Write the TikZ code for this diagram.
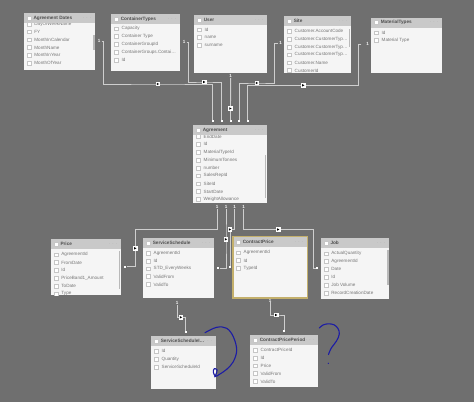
\documentclass[tikz,border=0pt]{standalone}
\usepackage{fontspec}
\setmainfont{Liberation Sans}
\usetikzlibrary{positioning,calc}
\definecolor{canvas}{RGB}{111,111,111}
\definecolor{tablebody}{RGB}{245,245,245}
\definecolor{tablehead}{RGB}{201,201,201}
\definecolor{fieldtext}{RGB}{118,118,118}
\definecolor{headtext}{RGB}{78,78,78}
\definecolor{relline}{RGB}{206,206,206}
\definecolor{ink}{RGB}{28,28,165}
\definecolor{selected}{RGB}{196,176,108}

% table header: name, width, title
\newcommand{\erhead}[3]{%
  \node[thead, minimum width=#2pt] (#1-head) at (#1.north west) {};
  \node[ficon] at ($(#1-head.west)+(5.3,0)$) {};
  \node[htitle] at ($(#1-head.west)+(9.6,0)$) {#3};
  \node[hdots] at ($(#1-head.east)+(-3.5,0)$) {$\cdots$};
}
% table fields: name, offset of first row, list
\newcommand{\erfields}[3]{%
  \begin{scope}
    \clip (#1.north west) rectangle (#1.south east);
    \foreach \f [count=\i from 0] in {#3} {
      \node[ficon] at ($(#1.north west)+(5.3,#2+7.85*\i)$) {};
      \node[field] at ($(#1.north west)+(10.5,#2+7.85*\i)$) {\f};
    }
  \end{scope}
}

\begin{document}
\begin{tikzpicture}[
    x=1pt, y=-1pt,
    tbody/.style={fill=tablebody, anchor=north west, inner sep=0pt},
    thead/.style={fill=tablehead, anchor=north west, inner sep=0pt, minimum height=10pt},
    htitle/.style={anchor=west, inner sep=0pt, text=headtext, font=\fontsize{4.7}{5}\selectfont\bfseries},
    hdots/.style={anchor=east, inner sep=0pt, text=gray!70, font=\fontsize{4}{4}\selectfont},
    field/.style={anchor=west, inner sep=0pt, text=fieldtext, font=\fontsize{4.6}{5}\selectfont},
    ficon/.style={draw=gray!45, fill=white, minimum size=3.8pt, inner sep=0pt, line width=0.35pt},
    scrollbar/.style={fill=gray!55, anchor=north east, minimum width=1.7pt, inner sep=0pt},
    rel/.style={draw=relline, line width=0.9pt},
    one/.style={inner sep=0pt, text=white!92!gray, font=\fontsize{4.5}{5}\selectfont\bfseries},
    many/.style={fill=white, minimum size=2pt, inner sep=0pt},
    dirmark/.style={fill=white, minimum size=4.4pt, inner sep=0pt,
      path picture={\fill[black] ($(path picture bounding box.center)+(-1.1,-1.2)$) -- ++(2.2,1.2) -- ++(-2.2,1.2) -- cycle;}},
    inkline/.style={draw=ink, line width=1.1pt, line cap=round, line join=round}
]

\useasboundingbox (0,0) rectangle (474,402);
\fill[canvas] (0,0) rectangle (474,402);

% top row of tables
\node[tbody, minimum width=71.3pt, minimum height=57.3pt] (adates) at (23.7,12.7) {};
\erfields{adates}{11.2}{DayOfWeekName,FY,MonthInCalendar,MonthName,MonthInYear,MonthOfYear}
\erhead{adates}{71.3}{Agreement Dates}
\node[scrollbar, minimum height=14.3pt] at ($(adates.north east)+(-0.7,22.3)$) {};

\node[tbody, minimum width=69pt, minimum height=57.3pt] (ctypes) at (111,13.7) {};
\erfields{ctypes}{15}{Capacity,Container Type,ContainerGroupId,ContainerGroups.Contai\ldots,Id}
\erhead{ctypes}{69}{ContainerTypes}

\node[tbody, minimum width=73pt, minimum height=58pt] (user) at (194,14.7) {};
\erfields{user}{15}{Id,name,surname}
\erhead{user}{73}{User}

\node[tbody, minimum width=67pt, minimum height=57pt] (site) at (284,16) {};
\erfields{site}{15.2}{Customer.AccountCode,Customer.CustomerTyp\ldots,Customer.CustomerTyp\ldots,Customer.CustomerTyp\ldots,Customer.Name,CustomerId}
\erhead{site}{67}{Site}
\node[scrollbar, minimum height=18.4pt] at ($(site.north east)+(-1,12.3)$) {};

\node[tbody, minimum width=71pt, minimum height=55.4pt] (mtypes) at (371,17.3) {};
\erfields{mtypes}{15.3}{Id,Material Type}
\erhead{mtypes}{71}{MaterialTypes}

% central table
\node[tbody, minimum width=74pt, minimum height=78.3pt] (agreement) at (193,124.7) {};
\erfields{agreement}{11.8}{EndDate,Id,MaterialTypeId,MinimumTonnes,number,SalesRepId,SiteId,StartDate,WeightAllowance}
\erhead{agreement}{74}{Agreement}
\node[scrollbar, minimum height=42.3pt] at ($(agreement.north east)+(-1,30.3)$) {};

% second row of tables
\node[tbody, minimum width=70.3pt, minimum height=56pt] (price) at (50.7,239) {};
\erfields{price}{15.6}{AgreementId,FromDate,Id,PriceBand1\_Amount,ToDate,Type}
\erhead{price}{70.3}{Price}
\node[scrollbar, minimum height=37.6pt] at ($(price.north east)+(-1,11.7)$) {};

\node[tbody, minimum width=71pt, minimum height=59.6pt] (sched) at (143,237.7) {};
\erfields{sched}{15.3}{AgreementId,Id,STD\_EveryWeeks,ValidFrom,ValidTo}
\erhead{sched}{71}{ServiceSchedule}

\node[tbody, minimum width=74pt, minimum height=61pt] (cprice) at (233,236.7) {};
\erfields{cprice}{16}{AgreementId,Id,TypeId}
\erhead{cprice}{74}{ContractPrice}
\draw[selected, line width=1.3pt] (cprice.north west) rectangle (cprice.south east);

\node[tbody, minimum width=68.3pt, minimum height=61pt] (job) at (320.7,238) {};
\erfields{job}{15.6}{ActualQuantity,AgreementId,Date,Id,Job Volume,RecordCreationDate}
\erhead{job}{68.3}{Job}
\node[scrollbar, minimum height=35pt] at ($(job.north east)+(-0.7,12)$) {};

% bottom row of tables
\node[tbody, minimum width=65pt, minimum height=52.6pt] (schedi) at (151,335.7) {};
\erfields{schedi}{15.6}{Id,Quantity,ServiceScheduleId}
\erhead{schedi}{65}{ServiceScheduleI\ldots}

\node[tbody, minimum width=68pt, minimum height=51.7pt] (cpp) at (250,335) {};
\erfields{cpp}{15}{ContractPriceId,Id,Price,ValidFrom,ValidTo}
\erhead{cpp}{68}{ContractPricePeriod}

% cardinality labels
\node[one] (one1) at ($(adates.north east)+(3.8,28.3)$) {1};
\node[one] (one2) at ($(ctypes.north east)+(3.7,28.3)$) {1};
\node[one] (one3) at ($(user.south)+(0,3)$) {1};
\node[one] (one4) at ($(site.north west)+(-3.5,27.3)$) {1};
\node[one] (one5) at ($(mtypes.north west)+(-3.3,27)$) {1};
\node[one] (one6) at ($(agreement.south west)+(24,3.7)$) {1};
\node[one] (one7) at ($(agreement.south west)+(33,3.7)$) {1};
\node[one] (one8) at ($(agreement.south west)+(41.7,3.7)$) {1};
\node[one] (one9) at ($(agreement.south west)+(50.7,3.7)$) {1};
\node[one] (one10) at ($(sched.south west)+(34,5.4)$) {1};
\node[one] (one11) at ($(cprice.south west)+(37,2.6)$) {1};

% many ends
\node[many] (ag-top1) at ($(agreement.north west)+(19.7,-3.3)$) {};
\node[many] (ag-top2) at ($(agreement.north west)+(28.5,-3.3)$) {};
\node[many] (ag-top3) at ($(agreement.north west)+(37.5,-3.3)$) {};
\node[many] (ag-top4) at ($(agreement.north west)+(46.2,-3.3)$) {};
\node[many] (ag-top5) at ($(agreement.north west)+(54.7,-3.3)$) {};
\node[many] (price-in) at ($(price.north east)+(4,27.7)$) {};
\node[many] (sched-in) at ($(sched.north east)+(4,30.6)$) {};
\node[many] (cprice-in) at ($(cprice.north west)+(-3,30)$) {};
\node[many] (job-in) at ($(job.north west)+(-4,30.3)$) {};
\node[many] (schedi-in) at ($(schedi.north west)+(34.5,-3.7)$) {};
\node[many] (cpp-in) at ($(cpp.north west)+(34,-4)$) {};

% filter direction marks
\coordinate (m1) at (158,84);
\coordinate (m2) at (204.3,82);
\coordinate (m3) at (230.5,108.5);
\coordinate (m4) at (257,83);
\coordinate (m5) at (303.3,85.3);
\coordinate (m6) at (135.3,248.3);
\coordinate (m7) at (226,239.3);
\coordinate (m8) at (230,229.5);
\coordinate (m9) at (278.3,229.5);
\coordinate (m10) at (181,317.3);
\coordinate (m11) at (276.3,315);

% relationships
\draw[rel] ([xshift=1pt]one1.east) -- ++(2.2,0) |- (m1) -| (ag-top1);
\draw[rel] ([xshift=1pt]one2.east) -- ++(2.2,0) |- (m2) -| (ag-top2);
\draw[rel] (one3.south) -- (m3) -- (ag-top3);
\draw[rel] ([xshift=-1.5pt]one4.west) -- ++(-2.8,0) |- (m4) -| (ag-top4);
\draw[rel] ([xshift=-4.8pt]one5.west) -- ++(-3.2,0) |- (m5) -| (ag-top5);
\draw[rel] (one6.south) -- ++(0,20.5) -| (m6) |- (price-in);
\draw[rel] (one7.south) -- (m7) |- (sched-in);
\draw[rel] (one8.south) |- (m8) -- (cprice-in);
\draw[rel] (one9.south) |- (m9) -| ([xshift=-3.4pt]job-in.center) -- (job-in);
\draw[rel] (one10.south) |- (m10) -| (schedi-in);
\draw[rel] (one11.south) |- (m11) -| (cpp-in);

\foreach \m in {m1,m2,m3,m4,m5,m6,m7,m8,m9,m10,m11}
  \node[dirmark] at (\m) {};

% handwritten notes
\draw[inkline] plot[smooth, tension=0.6] coordinates {(205,332.7) (216.7,327.3) (226.7,328.3) (233.3,336.7) (236.7,350) (233.3,361.7) (226.7,369.3) (219.5,374.3) (215.5,376.3) (213.3,372) (214.3,368.7) (217,369.8) (216.3,373.5) (214.7,377)};
\draw[inkline] plot[smooth, tension=0.6] coordinates {(319.3,328) (323,325) (328.3,323.8) (334,324.8) (338,328.5) (339.3,334) (336.5,341) (331,348.5) (328.5,354.5)};
\fill[ink] (328.3,363.3) circle (0.7pt);

\end{tikzpicture}
\end{document}
